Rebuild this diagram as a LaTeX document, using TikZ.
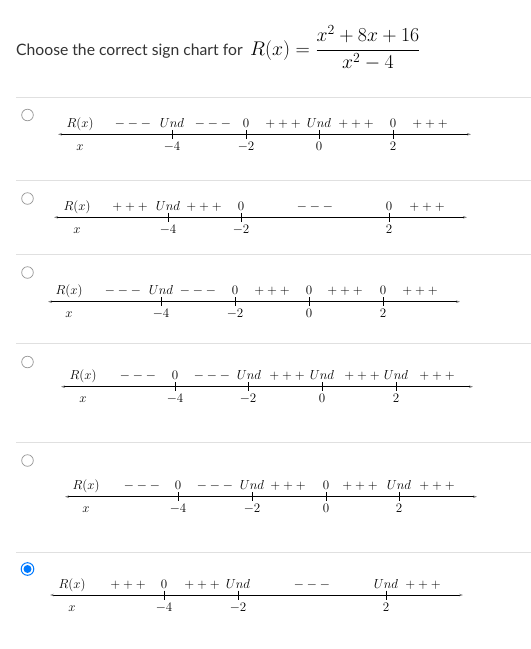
\RequirePackage{fix-cm}
\documentclass[tikz,border=0pt]{standalone}
\usepackage[no-math]{fontspec}
\newfontfamily\lato{Lato}
\usetikzlibrary{arrows.meta}
\definecolor{sepgray}{RGB}{224,224,224}
\definecolor{ringgray}{RGB}{150,150,150}
\definecolor{selblue}{RGB}{0,122,255}
\definecolor{qtext}{RGB}{51,51,51}
\newcommand\signM{$---$}
\newcommand\signP{$+++$}
\newcommand\signU{$Und$}
\newcommand\signZ{$0$}
\tikzset{
  lbl/.style={inner sep=0pt, anchor=base, font=\fontsize{13}{15}\selectfont},
  axisline/.style={line width=0.8pt, black, {Stealth[length=4pt,width=2.6pt,gray]}-{Stealth[length=4pt,width=2.6pt,gray]}},
  tickline/.style={line width=1pt, black},
  sepline/.style={line width=0.8pt, sepgray},
  radio/.style={draw=ringgray, line width=0.7pt, fill=white},
}
% #1 row id, #2 axis y, #3 x left, #4 x right, #5 R(x) x, #6 ticks x/label, #7 signs x/text
\newcommand\signrow[7]{%
  \coordinate (#1L) at (#3,#2);
  \coordinate (#1R) at (#4,#2);
  \draw[axisline] (#1L) -- (#1R);
  \node[lbl] (#1fn) at (#5,#2-7) {$R(x)$};
  \node[lbl] (#1var) at (#5,#2+16) {$x$};
  \foreach \tx/\tl [count=\k] in {#6}{
    \coordinate (#1ta\k) at (\tx,#2-4.5);
    \coordinate (#1tb\k) at (\tx,#2+4.5);
    \draw[tickline] (#1ta\k) -- (#1tb\k);
    \node[lbl] (#1tl\k) at (\tx,#2+16) {$\tl$};
  }
  \foreach \sx/\st [count=\k] in {#7}{
    \node[lbl] (#1s\k) at (\sx,#2-7) {\st};
  }
}
\begin{document}
\begin{tikzpicture}[x=1pt,y=-1pt]
\fill[white] (0,0) rectangle (531,649);
\useasboundingbox (0,0) rectangle (531,649);

% question
\node[inner sep=0pt, anchor=base west, text=qtext, font=\lato\fontsize{15.7}{18}\selectfont] (q) at (16,55) {Choose the correct sign chart for};
\node[inner sep=0pt, anchor=base west, font=\fontsize{19.8}{23}\selectfont] (qf) at (250,55) {$\displaystyle R(x)=\frac{x^2+8x+16}{x^2-4}$};

% separators
\foreach \yy [count=\k] in {97,180,254,343,442,552}{
  \coordinate (sa\k) at (16,\yy);
  \coordinate (sb\k) at (531,\yy);
  \draw[sepline] (sa\k) -- (sb\k);
}

% radio buttons
\foreach \yy [count=\k] in {115,198.5,272.5,362,460.5}{
  \node[radio, circle, minimum size=11.6pt, inner sep=0pt] (rb\k) at (27.5,\yy) {};
}
\node[circle, draw=selblue, line width=1pt, minimum size=12.6pt, inner sep=0pt] (rb6) at (27.5,569) {};
\node[circle, fill=selblue, minimum size=8pt, inner sep=0pt] (rb6in) at (27.5,569) {};

% rows
\signrow{a}{134.3}{58}{471}{80}{172/-4,246/-2,319/0,393/2}%
  {133/\signM,172/\signU,213/\signM,246/\signZ,283/\signP,319/\signU,356/\signP,393/\signZ,430/\signP}
\signrow{b}{217.3}{54}{467}{77}{168/-4,241/-2,389/2}%
  {130/\signP,168/\signU,204/\signP,241/\signZ,315/\signM,389/\signZ,427/\signP}
\signrow{c}{301.7}{48}{460}{69}{161/-4,235/-2,309/0,383/2}%
  {123/\signM,161/\signU,198/\signM,235/\signZ,272/\signP,309/\signZ,345/\signP,383/\signZ,420/\signP}
\signrow{d}{386.7}{61}{473}{83}{175/-4,248/-2,322/0,396/2}%
  {138/\signM,175/\signZ,212/\signM,249/\signU,287/\signP,322/\signU,362/\signP,396/\signU,437/\signP}
\signrow{e}{496.7}{65}{477}{86}{178/-4,252/-2,326/0,399/2}%
  {142/\signM,178/\signZ,215/\signM,252/\signU,288/\signP,326/\signZ,360/\signP,399/\signU,437/\signP}
\signrow{f}{595}{50}{463}{72}{164/-4,238/-2,386/2}%
  {128/\signP,164/\signZ,202/\signP,238/\signU,312/\signM,386/\signU,423/\signP}
\end{tikzpicture}
\end{document}
